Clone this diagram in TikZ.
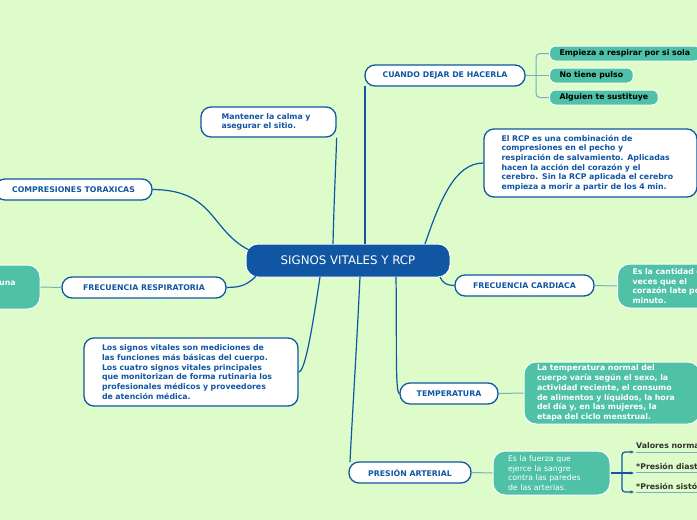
\documentclass[tikz,border=0pt]{standalone}
\usepackage{fontspec}
\setmainfont{DejaVu Sans}
\usetikzlibrary{arrows.meta}
\definecolor{bg}{RGB}{221,252,201}
\definecolor{dblue}{RGB}{16,86,163}
\definecolor{teal}{RGB}{78,193,166}
\definecolor{lline}{RGB}{120,175,190}
\definecolor{dgray}{RGB}{50,50,50}
\tikzset{
 wbox/.style={draw=dblue,line width=1.3pt,fill=white,rounded corners=10pt,text=dblue,font=\fontsize{7.8}{9.7}\selectfont\bfseries,inner sep=0pt},
 tbox/.style={draw=white,line width=1pt,fill=teal,rounded corners=12pt,text=white,font=\fontsize{7.8}{9.7}\selectfont\bfseries,inner sep=0pt},
 pill/.style={draw=white,line width=1pt,fill=teal,rounded corners=6pt,text=black,font=\fontsize{7.8}{8}\selectfont\bfseries,inner sep=0pt,minimum height=15pt,anchor=west,align=left,inner xsep=10pt},
 main/.style={dblue,line width=1.2pt},
 sub/.style={lline,line width=1pt},
 gtxt/.style={text=dgray,font=\fontsize{7.8}{8}\selectfont\bfseries,anchor=west,inner sep=0pt},
}
\begin{document}
\begin{tikzpicture}[x=1pt,y=-1pt]
\fill[bg] (0,0) rectangle (697,520);
\useasboundingbox (0,0) rectangle (697,520);
% central
\node[draw=white,line width=1pt,fill=dblue,rounded corners=12pt,text=white,font=\fontsize{11.8}{13}\selectfont,minimum width=204pt,minimum height=33pt] (c) at (348,260.5) {SIGNOS VITALES Y RCP};
% nodes
\node[wbox,minimum width=160pt,minimum height=21pt] (cd) at (445,75.5) {CUANDO DEJAR DE HACERLA};
\node[pill] (p1) at (549,53.5) {Empieza a respirar por si sola};
\node[pill] (p2) at (549,75.5) {No tiene pulso};
\node[pill] (p3) at (549,97.5) {Alguien te sustituye};
\node[wbox,minimum width=135pt,minimum height=30pt,text width=118pt,align=left] (mc) at (268.5,122) {\hspace*{12pt}Mantener la calma y\\\hspace*{12pt}asegurar el sitio.};
\node[wbox,minimum width=213pt,minimum height=68pt,text width=178pt,align=left] (rcp) at (590.5,163) {El RCP es una combinación de\\compresiones en el pecho y\\respiración de salvamiento. Aplicadas\\hacen la acción del corazón y el\\cerebro. Sin la RCP aplicada el cerebro\\empieza a morir a partir de los 4 min.};
\node[wbox,minimum width=157pt,minimum height=21pt] (ct) at (73.5,189.5) {COMPRESIONES TORAXICAS};
\node[wbox,minimum width=164pt,minimum height=21pt] (fr) at (144,287.5) {FRECUENCIA RESPIRATORIA};
\node[tbox,minimum width=55pt,minimum height=44pt] (frt) at (12.5,287) {};
\node[text=white,font=\fontsize{7.8}{9.7}\selectfont\bfseries,anchor=west,inner sep=0pt] at (-1,283) {una};
\node[wbox,minimum width=214pt,minimum height=68pt,text width=178pt,align=left] (sv) at (191,372) {Los signos vitales son mediciones de\\las funciones más básicas del cuerpo.\\Los cuatro signos vitales principales\\que monitorizan de forma rutinaria los\\profesionales médicos y proveedores\\de atención médica.};
\node[wbox,minimum width=139pt,minimum height=21pt] (fc) at (524.5,285.5) {FRECUENCIA CARDIACA};
\node[tbox,minimum width=130pt,minimum height=44pt,text width=100pt,align=left,anchor=west] (fct) at (617,286) {Es la cantidad de\\veces que el\\corazón late por\\minuto.};
\node[wbox,minimum width=98pt,minimum height=21pt] (tp) at (449,393.5) {TEMPERATURA};
\node[tbox,minimum width=176pt,minimum height=62pt,text width=150pt,align=left] (tpt) at (612,393) {La temperatura normal del\\cuerpo varía según el sexo, la\\actividad reciente, el consumo\\de alimentos y líquidos, la hora\\del día y, en las mujeres, la\\etapa del ciclo menstrual.};
\node[tbox,font=\fontsize{7.8}{9.7}\selectfont,minimum width=117pt,minimum height=44pt,text width=87pt,align=left] (pat) at (551.5,473) {Es la fuerza que\\ejerce la sangre\\contra las paredes\\de las arterias.};
\node[wbox,minimum width=122pt,minimum height=21pt] (pa) at (410,472.5) {PRESIÓN ARTERIAL};
\node[gtxt] (v1) at (636,446) {Valores normales};
\node[gtxt] (v2) at (636,466) {*Presión diastólica};
\node[gtxt] (v3) at (636,486) {*Presión sistólica};
% main connectors
\draw[main] (365,244) -- (365,86);
\draw[main] (333,244) .. controls (334,200) and (336,160) .. (mc.south east);
\draw[main] (425,244) .. controls (440,200) and (455,163) .. (rcp.west);
\draw[main] (249,250) .. controls (210,230) and (215,190) .. (ct.east);
\draw[main] (256,276) .. controls (245,288) and (235,287) .. (fr.east);
\draw[main] (320,277) .. controls (312,330) and (305,372) .. (sv.east);
\draw[main] (360,277) .. controls (356,360) and (352,420) .. (350,462);
\draw[main] (396,277) .. controls (397,340) and (395,393) .. (tp.west);
\draw[main] (440,277) .. controls (444,285) and (448,285) .. (fc.west);
% sub connectors
\draw[sub] (cd.east) -- (536,75.5);
\draw[sub,rounded corners=4pt] (p1.west) -- (536,53.5) -- (536,97.5) -- (p3.west);
\draw[sub] (536,75.5) -- (p2.west);
\draw[sub] (frt.east) -- (fr.west);
\draw[sub] (fc.east) -- (fct.west);
\draw[sub] (tp.east) -- (tpt.west);
\draw[sub] (pa.east) -- (pat.west);
\foreach \n in {v1,v2,v3} \draw[sub,line width=0.8pt] ([yshift=-6pt]\n.west) -- ++(70,0);
\draw[dblue,line width=1.2pt] (pat.east) -- (622,473);
\draw[dblue,line width=1.2pt,rounded corners=3pt,-{Stealth[length=4pt]}] (622,473) -- (622,452) -- (634,452);
\draw[dblue,line width=1.2pt,-{Stealth[length=4pt]}] (622,473) -- (634,473);
\draw[dblue,line width=1.2pt,rounded corners=3pt,-{Stealth[length=4pt]}] (622,473) -- (622,492) -- (634,492);
\end{tikzpicture}
\end{document}
